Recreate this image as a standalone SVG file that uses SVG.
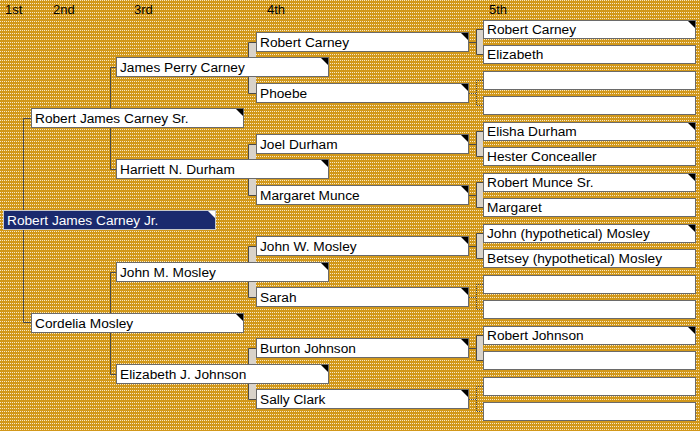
<svg xmlns="http://www.w3.org/2000/svg" width="700" height="431" viewBox="0 0 700 431">
<defs>
<pattern id="bg" width="2" height="3" patternUnits="userSpaceOnUse"><rect width="2" height="3" fill="#D2981A"/><rect width="1" height="1" fill="#F6E8C8"/></pattern>
</defs>
<style>
text{font-family:"Liberation Sans",Arial,sans-serif;font-size:13.7px;fill:#000}
.hd{font-size:13px}
.box{fill:#fff;stroke:#6a6a6a;stroke-width:1}
.tri{fill:#000}
.ln{fill:none;stroke:#4a4a4a;stroke-width:1}
.dl{fill:none;stroke:#4a4a4a;stroke-width:1;stroke-dasharray:1 1}
.sh{fill:#D9D3CA}
</style>
<rect width="700" height="431" fill="#D49C22"/>
<rect width="700" height="431" fill="url(#bg)"/>
<g id="headers">
<text class="hd" x="5" y="14">1st</text>
<text class="hd" x="53" y="14">2nd</text>
<text class="hd" x="134" y="14">3rd</text>
<text class="hd" x="267" y="14">4th</text>
<text class="hd" x="489" y="14">5th</text>
</g>
<g id="connectors">
<rect class="sh" x="249" y="42" width="7" height="51"/>
<rect class="sh" x="249" y="144" width="7" height="51"/>
<rect class="sh" x="249" y="246" width="7" height="51"/>
<rect class="sh" x="249" y="348" width="7" height="51"/>
<rect class="sh" x="477" y="29" width="6" height="25"/>
<rect class="sh" x="477" y="131" width="6" height="25"/>
<rect class="sh" x="477" y="182" width="6" height="26"/>
<rect class="sh" x="477" y="233" width="6" height="25"/>
<rect class="sh" x="477" y="335" width="6" height="25"/>
<path class="ln" d="M31 118.5H23.5V322.5H31"/>
<path class="ln" d="M116 67.5H110.5V169.5H116M116 272.5H110.5V374.5H116"/>
<path class="ln" d="M256 42.5H248.5V93.5H256M256 144.5H248.5V195.5H256M256 246.5H248.5V297.5H256M256 348.5H248.5V399.5H256"/>
<path class="ln" d="M469 42.5H476.5M483 29.5H476.5V54.5H483"/>
<path class="ln" d="M469 144.5H476.5M483 131.5H476.5V156.5H483"/>
<path class="ln" d="M469 195.5H476.5M483 182.5H476.5V207.5H483"/>
<path class="ln" d="M469 246.5H476.5M483 233.5H476.5V258.5H483"/>
<path class="ln" d="M469 348.5H476.5M483 335.5H476.5V360.5H483"/>
<path class="dl" d="M469 93.5H476.5M483 80.5H476.5V105.5H483"/>
<path class="dl" d="M469 297.5H476.5M483 284.5H476.5V309.5H483"/>
<path class="dl" d="M469 399.5H476.5M483 386.5H476.5V411.5H483"/>
</g>
<g id="n1"><rect x="3.5" y="210.5" width="212" height="19" fill="#1B2A6E" stroke="#c8c8c8"/><path d="M208 211H215V218Z" fill="#fff"/><text x="7" y="225" style="fill:#fff">Robert James Carney Jr.</text></g>
<g id="n2a"><rect class="box" x="31.5" y="108.5" width="212" height="19"/><path class="tri" d="M236 109H243V116Z"/><text x="35" y="123">Robert James Carney Sr.</text></g>
<g id="n2b"><rect class="box" x="31.5" y="313.5" width="212" height="19"/><path class="tri" d="M236 314H243V321Z"/><text x="35" y="328">Cordelia Mosley</text></g>
<g id="n3a"><rect class="box" x="116.5" y="57.5" width="212" height="19"/><path class="tri" d="M321 58H328V65Z"/><text x="120" y="72">James Perry Carney</text></g>
<g id="n3b"><rect class="box" x="116.5" y="159.5" width="212" height="19"/><path class="tri" d="M321 160H328V167Z"/><text x="120" y="174">Harriett N. Durham</text></g>
<g id="n3c"><rect class="box" x="116.5" y="262.5" width="212" height="19"/><path class="tri" d="M321 263H328V270Z"/><text x="120" y="277">John M. Mosley</text></g>
<g id="n3d"><rect class="box" x="116.5" y="364.5" width="212" height="19"/><path class="tri" d="M321 365H328V372Z"/><text x="120" y="379">Elizabeth J. Johnson</text></g>
<g id="n4a"><rect class="box" x="256.5" y="32.5" width="212" height="19"/><path class="tri" d="M461 33H468V40Z"/><text x="260" y="47">Robert Carney</text></g>
<g id="n4b"><rect class="box" x="256.5" y="83.5" width="212" height="19"/><path class="tri" d="M461 84H468V91Z"/><text x="260" y="98">Phoebe</text></g>
<g id="n4c"><rect class="box" x="256.5" y="134.5" width="212" height="19"/><path class="tri" d="M461 135H468V142Z"/><text x="260" y="149">Joel Durham</text></g>
<g id="n4d"><rect class="box" x="256.5" y="185.5" width="212" height="19"/><path class="tri" d="M461 186H468V193Z"/><text x="260" y="200">Margaret Munce</text></g>
<g id="n4e"><rect class="box" x="256.5" y="236.5" width="212" height="19"/><path class="tri" d="M461 237H468V244Z"/><text x="260" y="251">John W. Mosley</text></g>
<g id="n4f"><rect class="box" x="256.5" y="287.5" width="212" height="19"/><path class="tri" d="M461 288H468V295Z"/><text x="260" y="302">Sarah</text></g>
<g id="n4g"><rect class="box" x="256.5" y="338.5" width="212" height="19"/><path class="tri" d="M461 339H468V346Z"/><text x="260" y="353">Burton Johnson</text></g>
<g id="n4h"><rect class="box" x="256.5" y="389.5" width="212" height="19"/><path class="tri" d="M461 390H468V397Z"/><text x="260" y="404">Sally Clark</text></g>
<g id="n5a"><rect class="box" x="483.5" y="20.5" width="212" height="18"/><path class="tri" d="M688 21H695V28Z"/><text x="487" y="34">Robert Carney</text></g>
<g id="n5b"><rect class="box" x="483.5" y="45.5" width="212" height="18"/><text x="487" y="59">Elizabeth</text></g>
<g id="n5c"><rect class="box" x="483.5" y="71.5" width="212" height="18"/></g>
<g id="n5d"><rect class="box" x="483.5" y="96.5" width="212" height="18"/></g>
<g id="n5e"><rect class="box" x="483.5" y="122.5" width="212" height="18"/><path class="tri" d="M688 123H695V130Z"/><text x="487" y="136">Elisha Durham</text></g>
<g id="n5f"><rect class="box" x="483.5" y="147.5" width="212" height="18"/><text x="487" y="161">Hester Concealler</text></g>
<g id="n5g"><rect class="box" x="483.5" y="173.5" width="212" height="18"/><path class="tri" d="M688 174H695V181Z"/><text x="487" y="187">Robert Munce Sr.</text></g>
<g id="n5h"><rect class="box" x="483.5" y="198.5" width="212" height="18"/><text x="487" y="212">Margaret</text></g>
<g id="n5i"><rect class="box" x="483.5" y="224.5" width="212" height="18"/><path class="tri" d="M688 225H695V232Z"/><text x="487" y="238">John (hypothetical) Mosley</text></g>
<g id="n5j"><rect class="box" x="483.5" y="249.5" width="212" height="18"/><text x="487" y="263">Betsey (hypothetical) Mosley</text></g>
<g id="n5k"><rect class="box" x="483.5" y="275.5" width="212" height="18"/></g>
<g id="n5l"><rect class="box" x="483.5" y="300.5" width="212" height="18"/></g>
<g id="n5m"><rect class="box" x="483.5" y="326.5" width="212" height="18"/><path class="tri" d="M688 327H695V334Z"/><text x="487" y="340">Robert Johnson</text></g>
<g id="n5n"><rect class="box" x="483.5" y="351.5" width="212" height="18"/></g>
<g id="n5o"><rect class="box" x="483.5" y="377.5" width="212" height="18"/></g>
<g id="n5p"><rect class="box" x="483.5" y="402.5" width="212" height="18"/></g>
</svg>
